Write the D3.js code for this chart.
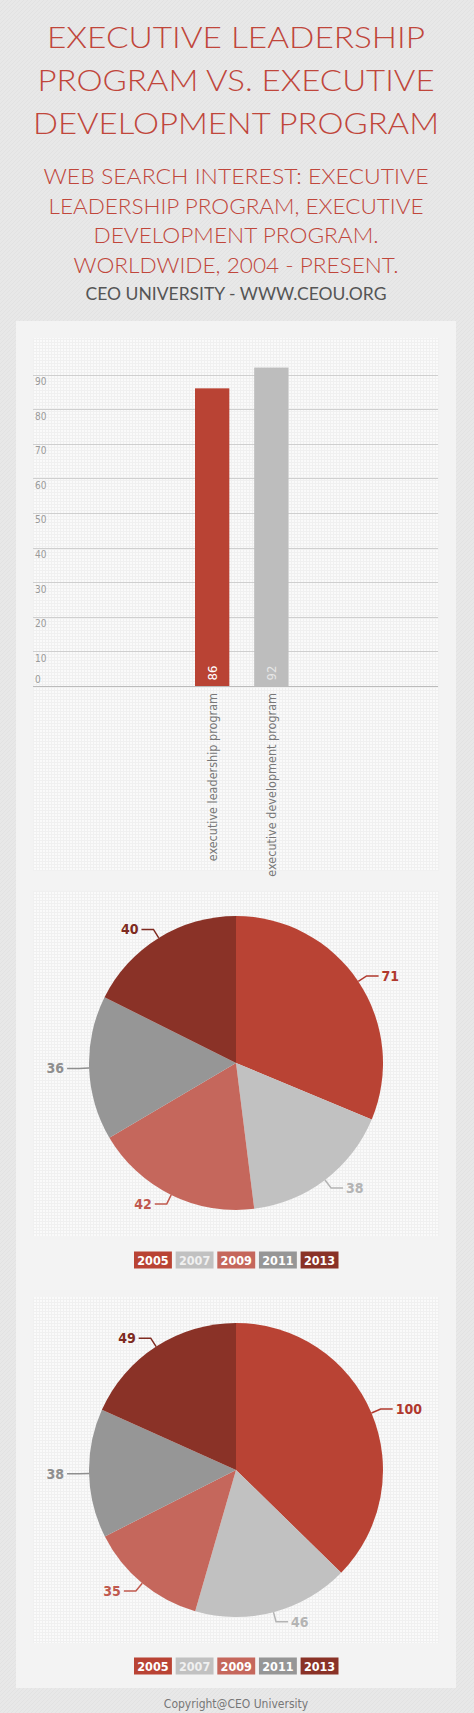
<!DOCTYPE html>
<html>
<head>
<meta charset="utf-8">
<script src="https://cdnjs.cloudflare.com/ajax/libs/d3/7.8.5/d3.min.js"></script>
<style>
  html, body { margin: 0; padding: 0; background: #e7e7e7; }
  svg { display: block; }
  .narrow { font-family: "Liberation Sans Narrow", "DejaVu Sans Condensed", "Roboto Condensed", sans-serif; }
</style>
</head>
<body>
<svg id="chart" width="474" height="1713"></svg>
<script>
// Data
var titleLines = ["EXECUTIVE LEADERSHIP", "PROGRAM VS. EXECUTIVE", "DEVELOPMENT PROGRAM"];
var subtitleLines = ["WEB SEARCH INTEREST: EXECUTIVE", "LEADERSHIP PROGRAM, EXECUTIVE",
    "DEVELOPMENT PROGRAM.", "WORLDWIDE, 2004 - PRESENT."];
var sourceLine = "CEO UNIVERSITY - WWW.CEOU.ORG";
var footerText = "Copyright@CEO University";

var barCategories = ["executive leadership program", "executive development program"];
var barValues = [86, 92];
var yTicks = [0, 10, 20, 30, 40, 50, 60, 70, 80, 90];

var years = ["2005", "2007", "2009", "2011", "2013"];
var pie1Values = [71, 38, 42, 36, 40];
var pie2Values = [100, 46, 35, 38, 49];

var sliceColors = ["#b94334", "#c1c1c1", "#c5675c", "#969696", "#8a3227"];
var labelColors = ["#b0382d", "#b4b4b4", "#c0594e", "#8e8e8e", "#7e2a20"];
var barColors = ["#b94334", "#bdbdbd"];

var svg = d3.select("#chart");

// background patterns
var defs = svg.append("defs");
var bgPat = defs.append("pattern")
    .attr("id", "bgPat")
    .attr("width", 4)
    .attr("height", 4)
    .attr("patternUnits", "userSpaceOnUse");
bgPat.append("rect").attr("width", 4).attr("height", 4).attr("fill", "#e8e8e8");
bgPat.append("path").attr("d", "M0,4 L4,0").attr("stroke", "#e2e2e2").attr("stroke-width", 1);

var gridPat = defs.append("pattern")
    .attr("id", "gridPat")
    .attr("width", 3)
    .attr("height", 3)
    .attr("patternUnits", "userSpaceOnUse");
gridPat.append("rect").attr("width", 3).attr("height", 3).attr("fill", "#fafafa");
gridPat.append("path").attr("d", "M0,0.5 H3 M0.5,0 V3").attr("stroke", "#f0f0f0").attr("stroke-width", 1);

svg.append("rect").attr("width", 474).attr("height", 1713).attr("fill", "url(#bgPat)");

// titles
var titleWidths = [378, 397, 406];
svg.append("g").selectAll("text")
    .data(titleLines)
    .enter()
    .append("text")
    .attr("x", 236)
    .attr("y", function(d, i) { return 48 + i * 43; })
    .attr("text-anchor", "middle")
    .attr("textLength", function(d, i) { return titleWidths[i]; })
    .attr("lengthAdjust", "spacingAndGlyphs")
    .style("font-family", "Lato, 'Open Sans', sans-serif")
    .style("font-weight", 300)
    .style("font-size", "30px")
    .style("fill", "#c0463b")
    .text(function(d) { return d; });

var subWidths = [385, 375, 285, 325];
svg.append("g").selectAll("text")
    .data(subtitleLines)
    .enter()
    .append("text")
    .attr("x", 236)
    .attr("y", function(d, i) { return 184 + i * 29.7; })
    .attr("text-anchor", "middle")
    .attr("textLength", function(d, i) { return subWidths[i]; })
    .attr("lengthAdjust", "spacingAndGlyphs")
    .style("font-family", "Lato, 'Open Sans', sans-serif")
    .style("font-weight", 300)
    .style("font-size", "22px")
    .style("fill", "#c0463b")
    .text(function(d) { return d; });

svg.append("text")
    .attr("x", 236)
    .attr("y", 300)
    .attr("text-anchor", "middle")
    .attr("textLength", 301)
    .attr("lengthAdjust", "spacingAndGlyphs")
    .style("font-family", "Lato, 'Open Sans', sans-serif")
    .style("font-size", "17px")
    .style("fill", "#555")
    .text(sourceLine);

// main panel
svg.append("rect")
    .attr("x", 16).attr("y", 321)
    .attr("width", 440).attr("height", 1367)
    .attr("fill", "#f3f3f3");

var panels = [[338, 533], [891, 345], [1297, 346]];
svg.append("g").selectAll("rect")
    .data(panels)
    .enter()
    .append("rect")
    .attr("x", 33)
    .attr("y", function(d) { return d[0]; })
    .attr("width", 406)
    .attr("height", function(d) { return d[1]; })
    .attr("fill", "url(#gridPat)");

// bar chart
var y = d3.scaleLinear().domain([0, 90]).range([686, 374.5]);
var x = d3.scaleBand().domain(barCategories).range([195, 288.5]).paddingInner(0.42).paddingOuter(0);

var barG = svg.append("g");
barG.selectAll("line.grid")
    .data(yTicks)
    .enter()
    .append("line")
    .attr("class", "grid")
    .attr("x1", 33).attr("x2", 438)
    .attr("y1", function(d) { return Math.round(y(d)) + 0.5; })
    .attr("y2", function(d) { return Math.round(y(d)) + 0.5; })
    .attr("stroke", function(d) { return d === 0 ? "#bbb" : "#cfcfcf"; })
    .attr("stroke-width", 1);

barG.selectAll("text.tick")
    .data(yTicks)
    .enter()
    .append("text")
    .attr("class", "tick narrow")
    .attr("x", 35)
    .attr("y", function(d) { return d === 0 ? y(d) - 7 : y(d) + 7; })
    .attr("dy", "0.35em")
    .style("font-size", "10px")
    .style("fill", "#9a9a9a")
    .text(function(d) { return d; });

barG.selectAll("rect.bar")
    .data(barValues)
    .enter()
    .append("rect")
    .attr("class", "bar")
    .attr("x", function(d, i) { return x(barCategories[i]); })
    .attr("y", function(d) { return y(d); })
    .attr("width", x.bandwidth())
    .attr("height", function(d) { return y(0) - y(d); })
    .attr("fill", function(d, i) { return barColors[i]; });

barG.selectAll("text.val")
    .data(barValues)
    .enter()
    .append("text")
    .attr("class", "val narrow")
    .attr("transform", function(d, i) {
        return "translate(" + (x(barCategories[i]) + x.bandwidth() / 2) + ",673) rotate(-90)";
    })
    .attr("text-anchor", "middle")
    .attr("dy", "0.35em")
    .style("font-size", "13px")
    .style("fill", function(d, i) { return i === 0 ? "#fff" : "#e6e6e6"; })
    .text(function(d) { return d; });

barG.selectAll("text.cat")
    .data(barCategories)
    .enter()
    .append("text")
    .attr("class", "cat narrow")
    .attr("transform", function(d) {
        return "translate(" + (x(d) + x.bandwidth() / 2) + ",693) rotate(-90)";
    })
    .attr("text-anchor", "end")
    .attr("dy", "0.35em")
    .style("font-size", "12.5px")
    .style("fill", "#777")
    .text(function(d) { return d; });

// pies
function drawPie(values, cx, cy, r, legendY) {
    var g = svg.append("g").attr("transform", "translate(" + cx + "," + cy + ")");
    var pie = d3.pie().sort(null).value(function(d) { return d; });
    var arc = d3.arc().innerRadius(0).outerRadius(r);
    var arcs = pie(values);

    g.selectAll("path.slice")
        .data(arcs)
        .enter()
        .append("path")
        .attr("class", "slice")
        .attr("d", arc)
        .attr("fill", function(d, i) { return sliceColors[i]; });

    var lab = g.selectAll("g.lab")
        .data(arcs)
        .enter()
        .append("g")
        .attr("class", "lab");

    function pt(a, rr) { return [rr * Math.sin(a), -rr * Math.cos(a)]; }

    lab.append("path")
        .attr("d", function(d) {
            var a = (d.startAngle + d.endAngle) / 2;
            var side = Math.sin(a) >= 0 ? 1 : -1;
            var p0 = pt(a, r), p1 = pt(a, r + 10);
            return "M" + p0 + "L" + p1 + "L" + [p1[0] + side * 12, p1[1]];
        })
        .attr("fill", "none")
        .attr("stroke", function(d, i) { return labelColors[i]; })
        .attr("stroke-width", 1.5);

    lab.append("text")
        .attr("class", "narrow")
        .attr("x", function(d) {
            var a = (d.startAngle + d.endAngle) / 2;
            var side = Math.sin(a) >= 0 ? 1 : -1;
            return pt(a, r + 10)[0] + side * 15;
        })
        .attr("y", function(d) { return pt((d.startAngle + d.endAngle) / 2, r + 10)[1]; })
        .attr("dy", "0.35em")
        .attr("text-anchor", function(d) {
            return Math.sin((d.startAngle + d.endAngle) / 2) >= 0 ? "start" : "end";
        })
        .style("font-size", "14px")
        .style("font-weight", "bold")
        .style("fill", function(d, i) { return labelColors[i]; })
        .text(function(d) { return d.data; });

    // legend
    var lx = d3.scaleBand().domain(years).range([134, 338.5]).paddingInner(0.09).paddingOuter(0);
    var leg = svg.append("g").selectAll("g")
        .data(years)
        .enter()
        .append("g")
        .attr("transform", function(d) { return "translate(" + lx(d) + "," + legendY + ")"; });
    leg.append("rect")
        .attr("width", lx.bandwidth())
        .attr("height", 17)
        .attr("fill", function(d, i) { return sliceColors[i]; });
    leg.append("text")
        .attr("class", "narrow")
        .attr("x", lx.bandwidth() / 2)
        .attr("y", 8.5)
        .attr("dy", "0.36em")
        .attr("text-anchor", "middle")
        .style("font-size", "12.5px")
        .style("font-weight", "bold")
        .style("fill", function(d, i) { return i === 1 ? "#f0f0f0" : "#fff"; })
        .text(function(d) { return d; });
}

drawPie(pie1Values, 236, 1063, 147, 1251.5);
drawPie(pie2Values, 236, 1470, 147, 1657.5);

svg.append("text")
    .attr("class", "narrow")
    .attr("x", 236)
    .attr("y", 1704)
    .attr("dy", "0.35em")
    .attr("text-anchor", "middle")
    .style("font-size", "12px")
    .style("fill", "#777")
    .text(footerText);
</script>
</body>
</html>
